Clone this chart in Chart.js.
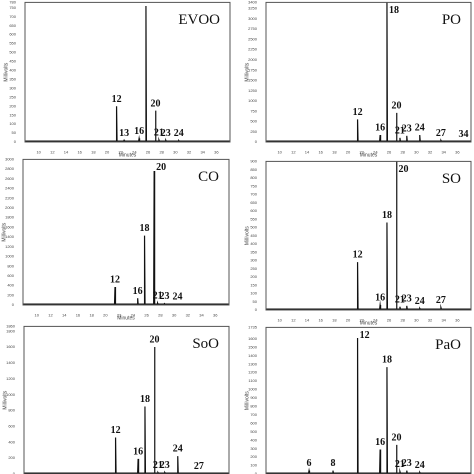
<!DOCTYPE html>
<html>
<head>
<meta charset="utf-8">
<script src="https://cdn.jsdelivr.net/npm/chart.js@4"></script>
<style>
  body { margin: 0; width: 474px; height: 474px; overflow: hidden; background: #fff; position: relative; }
  canvas { position: absolute; }
</style>
</head>
<body>
<script>
// peak numbers and retention times (minutes)
const peakNames = ["6", "8", "12", "13", "16", "18", "20", "21", "23", "24", "27", "34"];
const peakTimes = [14.3, 17.8, 21.4, 22.5, 24.7, 25.7, 27.1, 27.6, 28.6, 30.5, 33.6, 36.9];

// heights per oil (millivolts), null = no peak
const evooHeights = [null, null, 200, 10, 20, 760, 175, 12, 10, 8, null, null];
const poHeights   = [null, null, 550, null, 170, 3500, 710, 100, 150, 170, 40, 20];
const coHeights   = [null, null, 370, null, 140, 1430, 2760, 40, 30, 25, null, null];
const soHeights   = [null, null, 290, null, 30, 530, 900, 20, 25, 10, 15, null];
const sooHeights  = [null, null, 460, null, 190, 850, 1600, 20, 20, 225, 10, null];
const paoHeights  = [40, 40, 1610, null, 290, 1265, 345, 30, 40, 20, null, null];

const oilNames = ["EVOO", "PO", "CO", "SO", "SoO", "PaO"];
const oilHeights = [evooHeights, poHeights, coHeights, soHeights, sooHeights, paoHeights];
const unlabelled = [["18"], [], [], [], [], []];
const yMax = [780, 3400, 3000, 900, 1860, 1735];
const yStep = [50, 250, 200, 50, 200, 100];

// plot boxes on the page: left, top, right, bottom
const boxes = [
  [25, 1, 230, 142], [266, 1, 471, 142],
  [23, 158, 229, 305], [266, 160, 471, 310],
  [24, 325, 229, 474], [266, 326, 471, 474]
];

const Y_W = 22, X_H = 16;

const peakLabels = {
  id: "peakLabels",
  afterDatasetsDraw(chart, args, opts) {
    const { ctx, chartArea, scales } = chart;
    ctx.save();
    ctx.strokeStyle = "#555";
    ctx.lineWidth = 1;
    ctx.strokeRect(chartArea.left, chartArea.top, chartArea.width, chartArea.height);
    ctx.fillStyle = "#111";
    ctx.font = "bold 10px 'Liberation Serif'";
    ctx.textAlign = "center";
    ctx.textBaseline = "bottom";
    opts.heights.forEach((h, i) => {
      if (h == null || opts.skip.includes(peakNames[i])) return;
      const x = scales.x.getPixelForValue(peakTimes[i]);
      let y = scales.y.getPixelForValue(Math.min(h, opts.max)) - 2;
      if (y < chartArea.top + 12) {
        ctx.textAlign = "left";
        ctx.fillText(peakNames[i], x + 2, chartArea.top + 13);
        ctx.textAlign = "center";
      } else {
        ctx.fillText(peakNames[i], x, y);
      }
    });
    ctx.font = "15px 'Liberation Serif'";
    ctx.textAlign = "right";
    ctx.textBaseline = "top";
    ctx.fillText(opts.name, chartArea.right - 10, chartArea.top + 10);
    ctx.restore();
  }
};

oilNames.forEach((name, k) => {
  const [l, t, r, b] = boxes[k];
  const cv = document.createElement("canvas");
  const w = r - l + Y_W + 2, h = b - t + 2 + X_H;
  cv.style.left = (l - Y_W) + "px";
  cv.style.top = (t - 2) + "px";
  cv.style.width = w + "px";
  cv.style.height = h + "px";
  document.body.appendChild(cv);

  const heights = oilHeights[k];
  const base = yMax[k] * 0.006;
  const pts = [{ x: 8, y: base }];
  peakTimes.forEach((pt, i) => {
    if (heights[i] == null) return;
    pts.push({ x: pt - 0.07, y: base }, { x: pt, y: heights[i] }, { x: pt + 0.07, y: base });
  });
  pts.push({ x: 38, y: base });

  new Chart(cv, {
    type: "line",
    data: { datasets: [{ data: pts, borderColor: "#111", borderWidth: 1.2, pointRadius: 0, tension: 0 }] },
    plugins: [peakLabels],
    options: {
      responsive: false,
      animation: false,
      devicePixelRatio: 2,
      layout: { padding: { top: 2, right: 2, left: 0, bottom: 0 } },
      plugins: {
        legend: { display: false },
        tooltip: { enabled: false },
        peakLabels: { heights: heights, name: name, max: yMax[k], skip: unlabelled[k] }
      },
      scales: {
        x: {
          type: "linear", min: 8, max: 38,
          afterFit: (s) => { s.height = X_H; },
          grid: { display: false },
          border: { color: "#555" },
          ticks: { stepSize: 2, font: { size: 4 }, color: "#444", padding: 0,
                   callback: (v) => (v > 8 && v < 38 ? String(v) : "") },
          title: { display: true, text: "Minutes", font: { size: 5 }, color: "#444", padding: { top: 1, bottom: 0 } }
        },
        y: {
          min: 0, max: yMax[k],
          afterFit: (s) => { s.width = Y_W; },
          grid: { display: false },
          border: { color: "#555" },
          ticks: { stepSize: yStep[k], font: { size: 4 }, color: "#444", padding: 1, autoSkip: false,
                   callback: (v) => String(v) },
          title: { display: true, text: "Millivolts", font: { size: 5 }, color: "#444", padding: 0 }
        }
      }
    }
  });
});
</script>
</body>
</html>
